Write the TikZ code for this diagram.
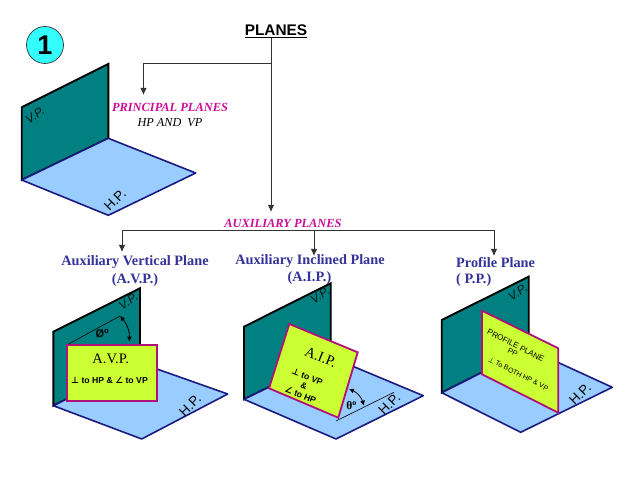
\documentclass[tikz,border=0pt]{standalone}
\usepackage{fontspec}
\setmainfont{Liberation Serif}
\setsansfont{Liberation Sans}
\newfontfamily\symfont{DejaVu Sans}
\usetikzlibrary{arrows.meta}
\definecolor{vpteal}{HTML}{008080}
\definecolor{hpblue}{HTML}{99CCFF}
\definecolor{hpedge}{HTML}{1A1A80}
\definecolor{auxyellow}{HTML}{CCFF33}
\definecolor{auxedge}{HTML}{B0107A}
\definecolor{titleblue}{HTML}{333399}
\definecolor{magtitle}{HTML}{CC0F99}
\definecolor{dimgrayline}{HTML}{333333}
\definecolor{badgecyan}{HTML}{33FFFF}
\tikzset{
  vpface/.style={fill=vpteal,draw=black,line width=1.9pt,line join=miter},
  hpface/.style={fill=hpblue,draw=hpedge,line width=1.6pt,line join=round},
  auxface/.style={fill=auxyellow,draw=auxedge,line width=1.8pt,line join=miter},
  vplabel/.style={font=\sffamily\itshape\fontsize{12}{12}\selectfont,text=black!85!vpteal,inner sep=0pt},
  hplabel/.style={font=\sffamily\fontsize{13.5}{13.5}\selectfont,text=black,inner sep=0pt},
  plantitle/.style={font=\bfseries\fontsize{14.3}{14.3}\selectfont,text=titleblue,inner sep=0pt},
  magtext/.style={font=\bfseries\itshape\fontsize{12.4}{12.4}\selectfont,text=magtitle,inner sep=0pt},
  conn/.style={draw=dimgrayline,line width=.8pt},
  connarrow/.style={conn,-{Latex[length=7pt,width=6.5pt]}},
  dimline/.style={draw=black,line width=.6pt},
  dimarc/.style={draw=black,line width=.8pt,{Latex[length=5pt,width=5pt]}-{Latex[length=5pt,width=5pt]}},
  smallbold/.style={font=\sffamily\bfseries\fontsize{8.7}{8.7}\selectfont,inner sep=0pt},
}
\begin{document}
\begin{tikzpicture}[x=1pt,y=-1pt]
\useasboundingbox (0,0) rectangle (638,478);
\fill[white] (0,0) rectangle (638,478);

% badge
\node[circle,draw=black!80,fill=badgecyan,line width=.7pt,minimum size=37pt,inner sep=0pt,font=\sffamily\bfseries\fontsize{27}{27}\selectfont] (badge) at (45,45) {1};

% main titles
\node[font=\sffamily\bfseries\fontsize{15.4}{15.4}\selectfont,inner sep=0pt] (planes) at (276,31.5) {\underline{PLANES}};
\node[magtext] (principal) at (170,107) {PRINCIPAL PLANES};
\node[font=\itshape\fontsize{12.2}{12.2}\selectfont,inner sep=0pt] (hpvp) at (170,122.5) {HP AND~~VP};
\node[magtext] (auxiliary) at (283,223.5) {AUXILIARY PLANES};

% connectors
\coordinate (stem) at (271,38);
\coordinate (branch) at (271,63.5);
\coordinate (ptip) at (143.5,95);
\coordinate (atip) at (271,212);
\coordinate (busl) at (122,230.5);
\coordinate (busm) at (314,230.5);
\coordinate (busr) at (494,230.5);
\coordinate (tipl) at (122,252);
\coordinate (tipm) at (314,256);
\coordinate (tipr) at (494,256);
\draw[connarrow] (stem) -- (atip);
\draw[connarrow] (branch) -| (ptip);
\draw[conn] (busl) -- (busr);
\draw[connarrow] (busl) -- (tipl);
\draw[connarrow] (busm) -- (tipm);
\draw[connarrow] (busr) -- (tipr);

% principal planes figure
\draw[vpface] (21.7,107.3) -- (108.3,64) -- (108.3,138.3) -- (21.7,180) -- cycle;
\draw[hpface] (21.7,180) -- (108.3,138.3) -- (195.7,173) -- (108.3,215.3) -- cycle;
\node[vplabel,rotate=35] (vp0) at (35,115.5) {V.P.};
\node[hplabel,rotate=45] (hp0) at (115,200) {H.P.};

% AVP
\node[plantitle] (t1) at (135,262.5) {Auxiliary Vertical Plane};
\node[plantitle] (t1b) at (135,280) {(A.V.P.)};
\draw[vpface] (53.3,331.7) -- (140,288.3) -- (140,363) -- (53.3,405.7) -- cycle;
\draw[hpface] (53.3,405.7) -- (140,363) -- (227.7,394) -- (141.7,439) -- cycle;
\node[vplabel,rotate=35] (vp1) at (128.3,301.5) {V.P.};
\node[hplabel,rotate=45] (hp1) at (190,405.5) {H.P.};
\coordinate (a1) at (120,316);
\coordinate (a2) at (129.3,341.7);
\coordinate (a0) at (66.7,345);
\draw[dimline] (a0) -- (a1);
\draw[dimarc] (a1) to[bend left=22] (a2);
\node[font=\sffamily\bfseries\fontsize{11}{11}\selectfont,inner sep=0pt] (phi) at (102.5,334) {Ø\textsuperscript{o}};
\node[auxface,minimum width=90pt,minimum height=56pt,inner sep=0pt,anchor=north west] (avp) at (66,344) {};
\node[font=\fontsize{14.5}{14.5}\selectfont,inner sep=0pt] (avpt) at (110.7,358.5) {A.V.P.};
\node[smallbold] (avps) at (109.5,380.7) {{\symfont ⊥} to HP \& {\symfont ∠} to VP};

% AIP
\node[plantitle] (t2) at (310,261) {Auxiliary Inclined Plane};
\node[plantitle] (t2b) at (309.5,278.5) {(A.I.P.)};
\draw[vpface] (244,326.7) -- (330.7,283.3) -- (330.7,357) -- (244,399.3) -- cycle;
\draw[hpface] (244,399.3) -- (330.7,357) -- (423.3,395.7) -- (336,439) -- cycle;
\node[vplabel,rotate=35] (vp2) at (320,295) {V.P.};
\node[hplabel,rotate=45] (hp2) at (389.3,404) {H.P.};
\draw[auxface] (289.3,324) -- (357.7,352.3) -- (338.3,417.7) -- (269,388.3) -- cycle;
\node[font=\fontsize{14.5}{14.5}\selectfont,rotate=-22,inner sep=0pt] (aipt) at (320.7,357.3) {A.I.P.};
\node[smallbold,rotate=-22] (aips1) at (307.3,377) {{\symfont ⊥} to VP};
\node[smallbold,rotate=-22] (aips2) at (303.8,386) {\&};
\node[smallbold,rotate=-22] (aips3) at (300.5,394.5) {{\symfont ∠} to HP};
\coordinate (b0) at (336,421);
\coordinate (b1) at (394,392.3);
\coordinate (b2) at (349,389);
\coordinate (b3) at (364,405.7);
\draw[dimline] (b0) -- (b1);
\draw[dimarc] (b2) to[bend left=25] (b3);
\node[font=\bfseries\fontsize{11.5}{11.5}\selectfont,inner sep=0pt] (theta) at (351.7,405.7) {θ\textsuperscript{o}};

% PP
\node[plantitle,anchor=west] (t3) at (456,262.7) {Profile Plane};
\node[plantitle,anchor=west] (t3b) at (456,280) {( P.P.)};
\draw[vpface] (441.7,320) -- (528.7,276.7) -- (528.7,349) -- (441.7,392.7) -- cycle;
\draw[hpface] (441.7,392.7) -- (528.7,349) -- (612.3,387.3) -- (520.7,432.3) -- cycle;
\node[vplabel,rotate=35] (vp3) at (517.7,292.3) {V.P.};
\node[hplabel,rotate=45] (hp3) at (580,394) {H.P.};
\draw[auxface] (482,310.7) -- (558.3,348.3) -- (558.3,412.7) -- (482,374.3) -- cycle;
\node[font=\sffamily\fontsize{8}{8}\selectfont,rotate=-27,inner sep=0pt] (ppa) at (515.7,345.5) {PROFILE PLANE};
\node[font=\sffamily\fontsize{7.5}{7.5}\selectfont,rotate=-27,inner sep=0pt] (ppb) at (512.7,352.7) {PP};
\node[font=\sffamily\fontsize{7}{7}\selectfont,rotate=-27,inner sep=0pt] (ppc) at (518.3,374) {{\symfont ⊥} To BOTH HP \& VP};
\end{tikzpicture}
\end{document}
